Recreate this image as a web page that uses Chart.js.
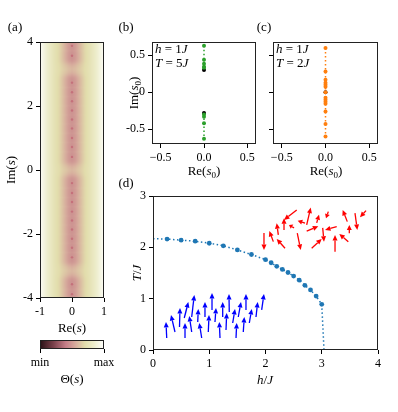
<!DOCTYPE html>
<html lang="en">
<head>
<meta charset="UTF-8">
<title>Roots and phase diagram</title>
<script src="https://cdn.jsdelivr.net/npm/chart.js@4"></script>
<style>
  body { margin: 0; background: #fff; }
  #fig { position: relative; width: 398px; height: 412px; overflow: hidden;
         font-family: 'Liberation Serif', serif; font-size: 13px; color: #000; }
  #fig canvas { position: absolute; }
  .t { position: absolute; transform: translate(-50%, -50%); white-space: nowrap; line-height: 1; }
  .rot { transform: translate(-50%, -50%) rotate(-90deg); }
  .note { position: absolute; white-space: nowrap; line-height: 13.5px; }
  .sb { font-size: 9px; position: relative; top: 3px; }
</style>
</head>
<body>
<div id="fig">
  <canvas id="cA" width="112" height="340" style="left:0;top:0"></canvas>
  <canvas id="cBar" width="120" height="40" style="left:0;top:330px"></canvas>
  <canvas id="cB" width="147" height="180" style="left:115px;top:0"></canvas>
  <canvas id="cC" width="136" height="180" style="left:262px;top:0"></canvas>
  <canvas id="cD" width="283" height="242" style="left:115px;top:170px"></canvas>

  <div class="t" style="left:15px;top:26px">(a)</div>
  <div class="t" style="left:126px;top:26px">(b)</div>
  <div class="t" style="left:264px;top:26px">(c)</div>
  <div class="t" style="left:126px;top:182px">(d)</div>

  <div class="t rot" style="left:10px;top:170px">Im(<i>s</i>)</div>
  <div class="t" style="left:72px;top:327px">Re(<i>s</i>)</div>
  <div class="t" style="left:72px;top:378px">&Theta;(<i>s</i>)</div>

  <div class="t rot" style="left:133px;top:93px">Im(<i>s</i><span class="sb">0</span>)</div>
  <div class="t" style="left:204px;top:170px">Re(<i>s</i><span class="sb">0</span>)</div>
  <div class="t" style="left:326px;top:170px">Re(<i>s</i><span class="sb">0</span>)</div>
  <div class="note" style="left:155px;top:42px"><i>h</i> = 1<i>J</i><br><i>T</i> = 5<i>J</i></div>
  <div class="note" style="left:276px;top:42px"><i>h</i> = 1<i>J</i><br><i>T</i> = 2<i>J</i></div>

  <div class="t" style="left:265px;top:379px"><i>h</i>/<i>J</i></div>
  <div class="t rot" style="left:136px;top:273px"><i>T</i>/<i>J</i></div>
</div>

<script>
// (a) positions of the dark spots along Im(s), and the profile across Re(s)
const poleIm = [3.88, 3.57, 2.73, 2.43, 2.15, 1.86, 1.58, 1.30, 1.0, 0.72, 0.41,
                -0.41, -0.72, -1.0, -1.30, -1.58, -1.86, -2.15, -2.43, -2.73, -3.57, -3.88];
const reProfile = [0, 0.1, 0.2, 0.3, 0.4, 0.55, 0.7, 0.85, 1.0];
const thetaProfile = [0.47, 0.50, 0.56, 0.62, 0.68, 0.74, 0.81, 0.89, 0.97];

// (b) h = 1J, T = 5J
const bGreen = [0.63, 0.44, 0.385, 0.345, 0.33, null, -0.30, -0.33, -0.42, -0.63];
const bBlack = [0.30, -0.28];
// (c) h = 1J, T = 2J
const cOrange = [0.60, 0.28, 0.17, 0.13, 0.10, 0.074, 0, -0.074, -0.10, -0.128, -0.155, -0.26, -0.43, -0.60];
const cBlack = [0];

// (d) transition line
const hVals = [0, 0.25, 0.5, 0.75, 1.0, 1.25, 1.5, 1.75, 2.0, 2.1, 2.2, 2.3, 2.4, 2.5, 2.6, 2.7, 2.8, 2.9, 3.0, 3.04];
const TVals = [2.17, 2.16, 2.14, 2.12, 2.08, 2.03, 1.95, 1.86, 1.76, 1.70, 1.63, 1.57, 1.51, 1.44, 1.36, 1.26, 1.17, 1.05, 0.89, 0];

// spins: [tail h, tail T, head h, head T]
const blueArrows = [
  [0.244, 0.234, 0.231, 0.546], [0.391, 0.351, 0.320, 0.682], [0.471, 0.448, 0.480, 0.819],
  [0.569, 0.234, 0.569, 0.526], [0.556, 0.624, 0.628, 0.936], [0.688, 0.643, 0.734, 1.072],
  [0.688, 0.351, 0.645, 0.663], [0.795, 0.546, 0.805, 0.799], [0.866, 0.234, 0.823, 0.526],
  [0.924, 0.643, 0.924, 0.936], [0.983, 0.351, 0.996, 0.682], [1.049, 0.780, 1.049, 1.111],
  [1.102, 0.546, 1.120, 0.819], [1.191, 0.234, 1.179, 0.546], [1.239, 0.643, 1.239, 0.936],
  [1.298, 0.390, 1.310, 0.721], [1.356, 0.741, 1.351, 1.092], [1.417, 0.526, 1.458, 0.799],
  [1.476, 0.234, 1.488, 0.526], [1.516, 0.643, 1.564, 0.936], [1.605, 0.351, 1.623, 0.643],
  [1.653, 0.780, 1.653, 1.092], [1.712, 0.526, 1.755, 0.799], [1.831, 0.643, 1.861, 0.936],
  [1.932, 0.780, 1.973, 1.092]
];
const redArrows = [
  [1.973, 2.281, 1.973, 1.949], [2.139, 2.111, 2.068, 2.320], [2.228, 2.242, 2.199, 2.470],
  [2.347, 1.982, 2.199, 2.164], [2.555, 2.729, 2.329, 2.534], [2.329, 2.339, 2.329, 2.567],
  [2.507, 2.378, 2.418, 2.437], [2.732, 2.437, 2.804, 2.774], [2.702, 2.470, 2.572, 2.520],
  [2.565, 2.275, 2.626, 1.949], [2.821, 1.982, 2.999, 2.164], [2.732, 2.314, 2.939, 2.411],
  [2.910, 2.476, 2.951, 2.637], [3.266, 2.404, 3.058, 2.339], [3.117, 2.696, 3.076, 2.567],
  [3.236, 1.916, 3.236, 2.242], [3.454, 2.501, 3.372, 2.729], [3.472, 2.111, 3.312, 2.261],
  [3.490, 2.275, 3.490, 2.437], [3.591, 2.665, 3.632, 2.339], [3.787, 2.715, 3.680, 2.587],
  [3.017, 2.378, 3.040, 2.111]
];

// colour map for Theta(s)
const cmapStops = [
  [0.00, [40, 18, 22]], [0.20, [118, 62, 72]], [0.40, [196, 124, 134]], [0.55, [214, 170, 156]],
  [0.70, [226, 221, 172]], [0.85, [238, 238, 206]], [1.00, [255, 255, 255]]
];
function cmap(v) {
  v = Math.max(0, Math.min(1, v));
  for (let i = 1; i < cmapStops.length; i++) {
    const [p1, c1] = cmapStops[i], [p0, c0] = cmapStops[i - 1];
    if (v <= p1) {
      const f = (v - p0) / (p1 - p0);
      return c0.map((c, k) => Math.round(c + f * (c1[k] - c)));
    }
  }
  return cmapStops[cmapStops.length - 1][1];
}
function lerp(xs, ys, x) {
  if (x >= xs[xs.length - 1]) return ys[ys.length - 1];
  for (let i = 1; i < xs.length; i++) {
    if (x <= xs[i]) return ys[i - 1] + (x - xs[i - 1]) / (xs[i] - xs[i - 1]) * (ys[i] - ys[i - 1]);
  }
}
function theta(re, im) {
  const a = Math.abs(re);
  let v = lerp(reProfile, thetaProfile, a);
  let d = Infinity;
  poleIm.forEach(p => { d = Math.min(d, Math.abs(im - p)); });
  const band = 1 / (1 + Math.pow(d / 0.25, 4));
  return v + 0.13 * (1 - band) * Math.exp(-Math.pow(a / 0.3, 2));
}

Chart.defaults.font.family = "'Liberation Serif', serif";
Chart.defaults.font.size = 12;
Chart.defaults.color = '#000';
Chart.defaults.animation = false;
Chart.defaults.events = [];
Chart.defaults.plugins.legend.display = false;
Chart.defaults.plugins.tooltip.enabled = false;

function axis(min, max, ticks, labels, fit, horizontal) {
  return {
    type: 'linear', min: min, max: max,
    afterBuildTicks: s => { s.ticks = ticks.map(v => ({ value: v })); },
    afterFit: s => { if (horizontal) s.height = fit; else s.width = fit; },
    ticks: { autoSkip: false, maxRotation: 0, padding: 3, callback: (v, i) => labels[i] },
    grid: { drawOnChartArea: false, tickLength: 4, color: '#000', lineWidth: 1 },
    border: { display: false }
  };
}

const box = {
  id: 'box',
  afterDatasetsDraw(c) {
    const a = c.chartArea, ctx = c.ctx;
    ctx.save();
    ctx.strokeStyle = '#222';
    ctx.lineWidth = 1;
    ctx.strokeRect(Math.round(a.left) + 0.5, Math.round(a.top) + 0.5,
                   Math.round(a.right - a.left) - 1, Math.round(a.bottom - a.top) - 1);
    ctx.restore();
  }
};

// heat map painted pixel by pixel through the chart's scales
const heat = {
  id: 'heat',
  beforeDatasetsDraw(c) {
    const a = c.chartArea, sx = c.scales.x, sy = c.scales.y;
    const w = Math.round(a.right - a.left), h = Math.round(a.bottom - a.top);
    const off = document.createElement('canvas');
    off.width = w; off.height = h;
    const octx = off.getContext('2d');
    const img = octx.createImageData(w, h);
    for (let j = 0; j < h; j++) {
      const im = sy.getValueForPixel(a.top + j + 0.5);
      for (let i = 0; i < w; i++) {
        const re = sx.getValueForPixel(a.left + i + 0.5);
        const col = cmap(theta(re, im));
        const k = (j * w + i) * 4;
        img.data[k] = col[0]; img.data[k + 1] = col[1]; img.data[k + 2] = col[2]; img.data[k + 3] = 255;
      }
    }
    octx.putImageData(img, 0, 0);
    c.ctx.drawImage(off, a.left, a.top);
  }
};

const colorbar = {
  id: 'colorbar',
  beforeDatasetsDraw(c) {
    const a = c.chartArea, ctx = c.ctx, sx = c.scales.x;
    for (let px = a.left; px < a.right; px++) {
      const col = cmap(sx.getValueForPixel(px + 0.5));
      ctx.fillStyle = 'rgb(' + col.join(',') + ')';
      ctx.fillRect(px, a.top, 1, a.bottom - a.top);
    }
  }
};

function drawArrow(ctx, x0, y0, x1, y1, col) {
  const dx = x1 - x0, dy = y1 - y0, L = Math.hypot(dx, dy);
  const ux = dx / L, uy = dy / L;
  const hl = Math.min(5.5, L * 0.6), hw = 2.5;
  const bx = x1 - ux * hl, by = y1 - uy * hl;
  ctx.strokeStyle = col;
  ctx.lineWidth = 1.3;
  ctx.beginPath(); ctx.moveTo(x0, y0); ctx.lineTo(bx, by); ctx.stroke();
  ctx.fillStyle = col;
  ctx.beginPath();
  ctx.moveTo(x1, y1);
  ctx.lineTo(bx - uy * hw, by + ux * hw);
  ctx.lineTo(bx + uy * hw, by - ux * hw);
  ctx.closePath(); ctx.fill();
}

// arrows join the tail and head points laid out by the chart
const arrows = {
  id: 'arrows',
  beforeDatasetsDraw(c) {
    const ctx = c.ctx;
    ctx.save();
    [[1, 2], [3, 4]].forEach(([ti, hi]) => {
      const tails = c.getDatasetMeta(ti).data, heads = c.getDatasetMeta(hi).data;
      const col = c.data.datasets[ti].borderColor;
      tails.forEach((t, k) => drawArrow(ctx, t.x, t.y, heads[k].x, heads[k].y, col));
    });
    ctx.restore();
  }
};

const pts = arr => arr.map(v => ({ x: 0, y: v }));

// (a)
new Chart(document.getElementById('cA'), {
  type: 'scatter',
  data: { datasets: [{ data: pts(poleIm), pointRadius: 1.2, pointBorderWidth: 0,
                       pointBackgroundColor: 'rgba(190,85,105,0.55)' }] },
  options: {
    responsive: false,
    layout: { padding: { top: 42, right: 8, left: 0, bottom: 0 } },
    scales: {
      x: axis(-1, 1, [-1, 0, 1], ['-1', '0', '1'], 42, true),
      y: axis(-4, 4, [-4, -2, 0, 2, 4], ['-4', '-2', '0', '2', '4'], 40, false)
    }
  },
  plugins: [heat, box]
});

// colour bar
new Chart(document.getElementById('cBar'), {
  type: 'scatter',
  data: { datasets: [{ data: [] }] },
  options: {
    responsive: false,
    layout: { padding: { top: 10, right: 16, left: 40, bottom: 0 } },
    scales: {
      x: axis(0, 1, [0, 1], ['min', 'max'], 21, true),
      y: { display: false, min: 0, max: 1 }
    }
  },
  plugins: [colorbar, box]
});

// (b)
new Chart(document.getElementById('cB'), {
  type: 'scatter',
  data: { datasets: [
    { data: pts(bGreen), showLine: true, spanGaps: false, borderColor: '#2ca02c', borderWidth: 1.5,
      borderDash: [1.5, 2.5], pointRadius: 2, pointBorderWidth: 0, pointBackgroundColor: '#2ca02c' },
    { data: pts(bBlack), pointRadius: 2, pointBorderWidth: 0, pointBackgroundColor: '#000' }
  ] },
  options: {
    responsive: false,
    layout: { padding: { top: 42, right: 6, left: 0, bottom: 0 } },
    scales: {
      x: axis(-0.6, 0.6, [-0.5, 0, 0.5], ['\u22120.5', '0.0', '0.5'], 36, true),
      y: axis(-0.70, 0.68, [-0.5, 0, 0.5], ['-0.5', '0', '0.5'], 37, false)
    }
  },
  plugins: [box]
});

// (c)
new Chart(document.getElementById('cC'), {
  type: 'scatter',
  data: { datasets: [
    { data: pts(cOrange), showLine: true, borderColor: '#ff7f0e', borderWidth: 1.5,
      borderDash: [1.5, 2.5], pointRadius: 2, pointBorderWidth: 0, pointBackgroundColor: '#ff7f0e' },
    { data: pts(cBlack), pointRadius: 2, pointBorderWidth: 0, pointBackgroundColor: '#000' }
  ] },
  options: {
    responsive: false,
    layout: { padding: { top: 42, right: 20, left: 0, bottom: 0 } },
    scales: {
      x: axis(-0.6, 0.6, [-0.5, 0, 0.5], ['\u22120.5', '0.0', '0.5'], 36, true),
      y: axis(-0.70, 0.68, [-0.5, 0, 0.5], ['', '', ''], 11, false)
    }
  },
  plugins: [box]
});

// (d)
const hidden = { pointRadius: 0, showLine: false };
new Chart(document.getElementById('cD'), {
  type: 'scatter',
  data: { datasets: [
    { data: hVals.map((h, i) => ({ x: h, y: TVals[i] })), showLine: true, borderColor: '#1f77b4',
      borderWidth: 1.5, borderDash: [1.5, 2.5], pointBorderWidth: 0, pointBackgroundColor: '#1f77b4',
      pointRadius: ctx => (ctx.dataIndex === 0 || ctx.dataIndex === hVals.length - 1) ? 0 : 2.4 },
    Object.assign({ data: blueArrows.map(a => ({ x: a[0], y: a[1] })), borderColor: '#0000ff' }, hidden),
    Object.assign({ data: blueArrows.map(a => ({ x: a[2], y: a[3] })), borderColor: '#0000ff' }, hidden),
    Object.assign({ data: redArrows.map(a => ({ x: a[0], y: a[1] })), borderColor: '#ff0000' }, hidden),
    Object.assign({ data: redArrows.map(a => ({ x: a[2], y: a[3] })), borderColor: '#ff0000' }, hidden)
  ] },
  options: {
    responsive: false,
    layout: { padding: { top: 26, right: 20, left: 0, bottom: 0 } },
    scales: {
      x: axis(0, 4, [0, 1, 2, 3, 4], ['0', '1', '2', '3', '4'], 62, true),
      y: axis(0, 3, [0, 1, 2, 3], ['0', '1', '2', '3'], 38, false)
    }
  },
  plugins: [arrows, box]
});
</script>
</body>
</html>
